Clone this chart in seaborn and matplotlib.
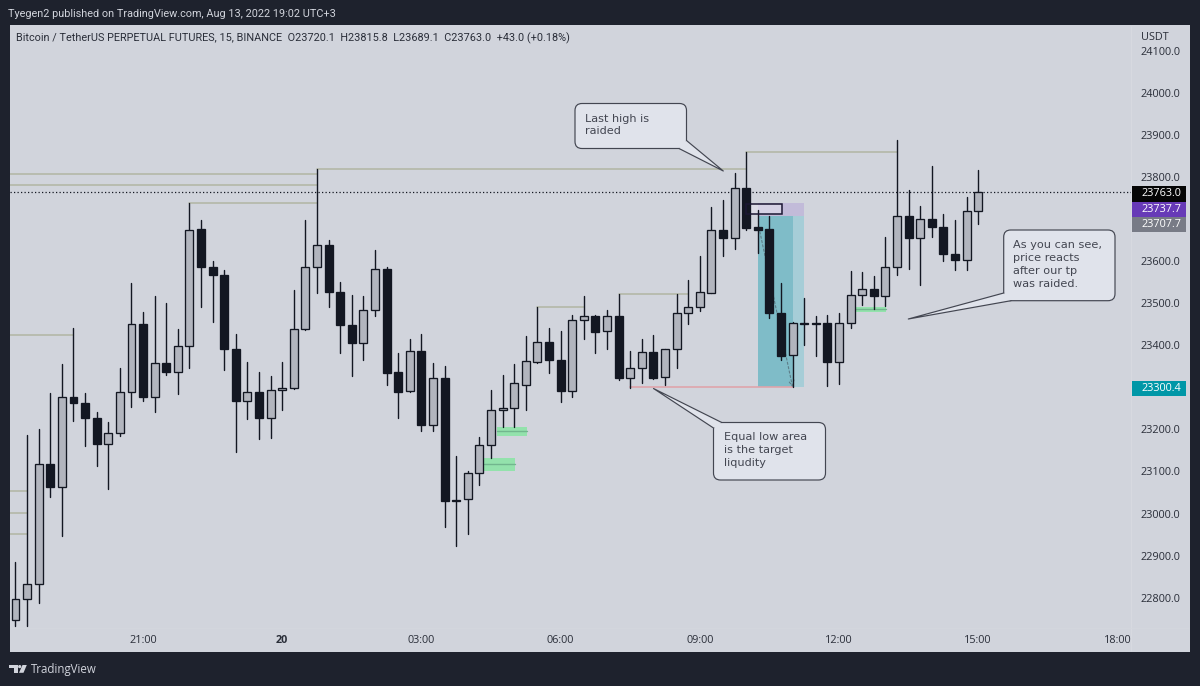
import matplotlib
matplotlib.use('Agg')
import matplotlib.pyplot as plt
from matplotlib.patches import FancyBboxPatch, Polygon, Rectangle, Circle
import numpy as np
import pandas as pd
import seaborn as sns

# candles: one value per 15 min bar, first bar is 18:15
opens = [22746, 22796, 22832, 23117, 23064, 23276, 23263, 23226, 23166, 23191, 23290, 23450,
         23278, 23357, 23336, 23399, 23676, 23587, 23567, 23390, 23268, 23290, 23228, 23294,
         23298, 23438, 23586, 23638, 23526, 23447, 23406, 23484, 23581, 23336, 23291, 23386,
         23211, 23321, 23033, 23035, 23097, 23162, 23245, 23250, 23306, 23361, 23408, 23366,
         23291, 23461, 23469, 23434, 23469, 23321, 23346, 23383, 23324, 23390, 23476, 23491,
         23525, 23673, 23655, 23774, 23680, 23676, 23476, 23377, 23452, 23452, 23452, 23359,
         23452, 23519, 23533, 23518, 23587, 23706, 23655, 23699, 23682, 23616, 23603, 23720.1]
highs = [22885, 23187, 23201, 23287, 23355, 23440, 23286, 23242, 23217, 23347, 23549, 23479,
         23518, 23500, 23438, 23739, 23698, 23599, 23578, 23427, 23361, 23336, 23327, 23360,
         23531, 23698, 23818, 23650, 23551, 23520, 23518, 23626, 23586, 23381, 23414, 23427,
         23358, 23350, 23137, 23101, 23183, 23294, 23329, 23355, 23422, 23490, 23440, 23435,
         23473, 23516, 23472, 23483, 23522, 23386, 23415, 23424, 23391, 23522, 23556, 23612,
         23728, 23745, 23810, 23860, 23721, 23706, 23549, 23456, 23512, 23470, 23472, 23476,
         23577, 23573, 23564, 23658, 23887, 23770, 23731, 23825, 23711, 23698, 23752, 23815.8]
lows = [22732, 22732, 22787, 23039, 22946, 23221, 23160, 23114, 23059, 23185, 23254, 23268,
        23241, 23330, 23283, 23347, 23492, 23456, 23342, 23147, 23225, 23177, 23179, 23245,
        23297, 23437, 23523, 23490, 23381, 23326, 23366, 23470, 23306, 23228, 23290, 23195,
        23197, 22969, 22923, 22951, 23069, 23132, 23205, 23205, 23247, 23358, 23334, 23266,
        23278, 23416, 23381, 23391, 23318, 23299, 23310, 23320, 23306, 23346, 23450, 23482,
        23524, 23611, 23628, 23673, 23619, 23464, 23366, 23300, 23400, 23375, 23302, 23308,
        23442, 23496, 23486, 23493, 23567, 23582, 23544, 23658, 23600, 23578, 23578, 23689.1]
closes = [22796, 22832, 23117, 23064, 23276, 23263, 23226, 23166, 23191, 23290, 23450, 23278,
          23357, 23337, 23399, 23675, 23587, 23567, 23390, 23268, 23290, 23228, 23294, 23298,
          23438, 23586, 23638, 23526, 23447, 23406, 23484, 23581, 23335, 23289, 23386, 23211,
          23321, 23031, 23031, 23097, 23162, 23245, 23250, 23310, 23362, 23408, 23366, 23291,
          23461, 23469, 23432, 23469, 23321, 23347, 23383, 23321, 23390, 23476, 23491, 23526,
          23673, 23655, 23774, 23679, 23675, 23476, 23374, 23452, 23450, 23450, 23359, 23452,
          23520, 23533, 23518, 23587, 23706, 23655, 23699, 23681, 23616, 23602, 23719, 23763.0]

# 23300 and 23700 are hidden by the price tags in the original
price_ticks = [22800, 22900, 23000, 23100, 23200, 23400, 23500, 23600, 23800, 23900, 24000, 24100]
time_ticks = [11, 23, 35, 47, 59, 71, 83, 95]
time_labels = ['21:00', '20', '03:00', '06:00', '09:00', '12:00', '15:00', '18:00']

# drawn levels: start bar, end bar, price (None start = from the left edge)
level_starts = [None, None, 15, 26, 63, None, None, None, None, 45, 52]
level_ends = [26, 26, 26, 63, 76, 5, 1, 1, 1, 49, 58]
level_prices = [23806, 23780, 23739, 23818, 23860, 23425, 23054, 23001, 22951, 23490, 23522]

# green zones: start bar, end bar, top, bottom, mid line
zone_starts = [41.5, 40.4, 72.4]
zone_ends = [44.1, 43.07, 75.05]
zone_tops = [23205, 23132, 23490]
zone_bottoms = [23185, 23102, 23478]
zone_mids = [23196, 23117, 23486]

# short position tool
stop_price = 23737.7
entry_price = 23707.7
target_price = 23300.4
last_price = 23763.0

BG = '#1e222d'
PANEL = '#d1d4dc'
INK = '#131722'
LEVEL = '#b4b8a8'

sns.set_style('white')
plt.rcParams['font.family'] = ['Open Sans', 'DejaVu Sans']

fig = plt.figure(figsize=(12, 6.86), dpi=100, facecolor=BG)
W, H = 1200, 686
left, right, top, bottom = 10, 1190, 25, 652
ax = fig.add_axes([left / W, 1 - bottom / H, (right - left) / W, (bottom - top) / H], facecolor=PANEL)

bars = pd.DataFrame({'i': np.arange(len(opens)), 'o': opens, 'h': highs, 'l': lows, 'c': closes})

# position box and zones go under the candles
ax.fill_between([64, 68], entry_price, stop_price, color='#c2bbd9', lw=0, zorder=1)
ax.fill_between([64, 68], target_price, entry_price, color='#a6cdd7', lw=0, zorder=1)
ax.fill_between([64, 67], target_price, entry_price, color='#7fbcc8', lw=0, zorder=1)
ax.add_patch(Rectangle((63, 23711), 3.05, 24, facecolor='#e4e2ee', alpha=0.6, edgecolor='none', zorder=1.2))
ax.add_patch(Rectangle((63, 23711), 3.05, 24, facecolor='none', edgecolor='#1b1733', lw=1.1, zorder=4))

for x0, x1, t, b, m in zip(zone_starts, zone_ends, zone_tops, zone_bottoms, zone_mids):
    ax.fill_between([x0, x1], b, t, color='#93e2ac', lw=0, zorder=1.5)
    ax.plot([x0, x1], [m, m], color='#72b68e', lw=1, zorder=1.6)

xlim = (-0.47, 101.26)
for s, e, p in zip(level_starts, level_ends, level_prices):
    ax.plot([xlim[0] if s is None else s, e], [p, p], color=LEVEL, lw=1.2, zorder=1.8)
ax.plot([53, 67], [target_price, target_price], color='#dfa4ab', lw=1.2, zorder=1.8)

ax.hlines(last_price, xlim[0], 96.17, color=INK, lw=0.9, linestyles=(0, (1, 1.8)), zorder=2)

ax.annotate('', xy=(67, target_price), xytext=(64.1, 23680), zorder=2.5,
            arrowprops=dict(arrowstyle='->', color='#5d7d88', lw=0.8, linestyle=(0, (2, 2)), shrinkA=0, shrinkB=0))

# wicks
wicks = bars.melt(id_vars='i', value_vars=['h', 'l'], value_name='price')
sns.lineplot(data=wicks, x='i', y='price', units='i', estimator=None, sort=False,
             color=INK, lw=1.0, legend=False, ax=ax, zorder=3)

# bodies
up = bars[bars['c'] >= bars['o']]
down = bars[bars['c'] < bars['o']]
ax.bar(up['i'], up['c'] - up['o'], bottom=up['o'], width=0.68, color='#b2b5be', edgecolor=INK, lw=0.95, zorder=3.5)
ax.bar(down['i'], down['o'] - down['c'], bottom=down['c'], width=0.68, color=INK, edgecolor=INK, lw=0.95, zorder=3.5)

ax.set_xlim(*xlim)
ax.set_ylim(22671, 24161)
ax.set_xlabel('')
ax.set_ylabel('')
ax.yaxis.tick_right()
ax.set_yticks(price_ticks)
ax.set_yticklabels([f'{p:.1f}' for p in price_ticks])
ax.set_xticks(time_ticks)
ax.set_xticklabels(time_labels)
ax.tick_params(axis='y', length=0, pad=-35.3, labelsize=7.8, labelcolor='#2a2e39')
ax.tick_params(axis='x', length=0, pad=-12.4, labelsize=7.8, labelcolor='#2a2e39')
ax.get_xticklabels()[1].set_fontweight('bold')
for s in ax.spines.values():
    s.set_visible(False)

# overlay in pixel units for callouts, price tags and chrome text
ov = fig.add_axes([0, 0, 1, 1], facecolor='none')
ov.set_xlim(0, W)
ov.set_ylim(H, 0)
ov.axis('off')

ov.plot([1131, 1131], [26, 651], color='#d8dae1', lw=0.7, zorder=0.5, solid_capstyle='butt')
ov.plot([11, 1189], [628, 628], color='#d5d7de', lw=0.5, zorder=0.5, solid_capstyle='butt')


def bubble(x0, y0, x1, y1, base_a, base_b, tip, lines, text_x, text_ys):
    face, edge = '#e0e3eb', '#434651'
    ov.add_patch(FancyBboxPatch((x0, y0), x1 - x0, y1 - y0, boxstyle='round,pad=0,rounding_size=7',
                                facecolor=face, edgecolor=edge, lw=0.85, zorder=6))
    ov.add_patch(Polygon([base_a, tip, base_b], closed=True, facecolor=face, edgecolor='none', zorder=6.1))
    ov.plot([base_a[0], tip[0], base_b[0]], [base_a[1], tip[1], base_b[1]], color=edge, lw=0.85, zorder=6.2)
    for line, ty in zip(lines, text_ys):
        ov.text(text_x, ty, line, family='DejaVu Sans', fontsize=8.1, color='#434651', va='center', ha='left', zorder=7)


bubble(575, 103.5, 686.5, 148.5, (686.5, 140.5), (679, 148.5), (723.3, 171),
       ['Last high is', 'raided'], 585, [118.5, 131.5])
bubble(713.5, 422.5, 825.5, 480, (721.7, 422.5), (713.5, 428), (653.5, 388.5),
       ['Equal low area', 'is the target', 'liqudity'], 724, [437, 450, 463])
bubble(1003.7, 230, 1115, 300.7, (1003.7, 293), (1011, 300.7), (908.3, 319),
       ['As you can see,', 'price reacts', 'after our tp', 'was raided.'], 1013, [245.5, 258.3, 271, 283.7])

# price tags stacked on the scale
tag_tops = [185.7, 201.5, 217, 380.7]
tag_bottoms = [201.5, 217, 232.3, 396]
tag_colors = ['#050505', '#673ab7', '#787b86', '#0097a7']
tag_texts = ['23763.0', '23737.7', '23707.7', '23300.4']
for t, b, c, s in zip(tag_tops, tag_bottoms, tag_colors, tag_texts):
    ov.add_patch(Rectangle((1131.7, t), 54.5, b - t, facecolor=c, edgecolor='none', zorder=6))
    ov.text(1141, (t + b) / 2, s, fontsize=7.8, color='white', va='center', ha='left', zorder=7)

ov.text(1141, 37.5, 'USDT', fontsize=7.8, color='#2a2e39', va='center', ha='left', zorder=7)
ov.text(15.5, 38.5, 'Bitcoin / TetherUS PERPETUAL FUTURES, 15, BINANCE  O23720.1  H23815.8  L23689.1  C23763.0  +43.0 (+0.18%)',
        family='Roboto', fontsize=7.87, color='#2a2e39', va='center', ha='left', zorder=7)
ov.text(8.5, 14, 'Tyegen2 published on TradingView.com, Aug 13, 2022 19:02 UTC+3',
        family='Roboto', fontsize=7.87, color='#d1d4dc', va='center', ha='left', zorder=7)

# TradingView mark and name in the footer
ov.add_patch(Polygon([(9.3, 665), (17.5, 665), (17.5, 672.8), (13.5, 672.8), (13.5, 668), (9.3, 668)], color='#d1d4dc', lw=0))
ov.add_patch(Circle((19.7, 666.6), 1.6, color='#d1d4dc', lw=0))
ov.add_patch(Polygon([(22.5, 665), (26.8, 665), (23.5, 672.8), (19, 672.8)], color='#d1d4dc', lw=0))
ov.text(30.5, 670, 'TradingView', fontsize=8.3, color='#d1d4dc', va='center', ha='left')

plt.savefig('out.png', dpi=100, facecolor=BG)
